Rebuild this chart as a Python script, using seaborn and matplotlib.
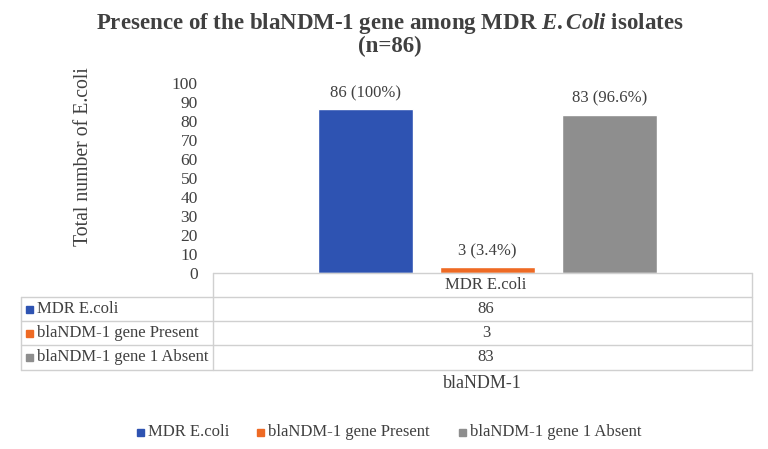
import matplotlib
matplotlib.use("Agg")
import matplotlib.pyplot as plt
import seaborn as sns
import pandas as pd
from matplotlib.lines import Line2D
from matplotlib.patches import Rectangle

categories = ["MDR E.coli"]
series = ["MDR E.coli", "blaNDM-1 gene Present", "blaNDM-1 gene 1 Absent"]
values = [86, 3, 83]
bar_labels = ["86 (100%)", "3 (3.4%)", "83 (96.6%)"]
yticks = [0, 10, 20, 30, 40, 50, 60, 70, 80, 90, 100]
colors = ["#2E53B2", "#EE6A24", "#8E8E8E"]

sns.set_theme(style="white")
plt.rcParams["font.family"] = ["Liberation Serif", "DejaVu Serif"]
plt.rcParams["mathtext.fontset"] = "custom"
plt.rcParams["mathtext.it"] = "Liberation Serif:italic:bold"
plt.rcParams["mathtext.rm"] = "Liberation Serif:bold"
plt.rcParams["mathtext.bf"] = "Liberation Serif:bold"

W, H = 768, 449
fig = plt.figure(figsize=(W / 100, H / 100), dpi=100)

def fx(px):
    return px / W

def fy(py):
    return 1 - py / H

TXT = "#404040"
ax_l, ax_r, ax_b, ax_t = 213, 752, 273, 82.6
ax = fig.add_axes([fx(ax_l), fy(ax_b), fx(ax_r - ax_l), (ax_b - ax_t) / H])

df = pd.DataFrame({"cat": categories * len(series), "series": series, "value": values})
sns.barplot(data=df, x="cat", y="value", hue="series", palette=colors,
            width=0.679, gap=0.221, ax=ax, legend=False, saturation=1)

ax.set_ylim(0, 100)
d = 0.0093
ax.set_xlim(-0.5 - d, 0.5 - d)
ax.set_yticks(yticks)
ax.set_yticklabels([str(t) for t in yticks], fontsize=12.5, color=TXT)
ax.tick_params(axis="y", length=0, pad=11)
ax.set_xticks([])
ax.set_xlabel("")
ax.set_ylabel("")
for s in ax.spines.values():
    s.set_visible(False)

for cont, lab in zip(ax.containers, bar_labels):
    ax.bar_label(cont, labels=[lab], padding=6, fontsize=12, color=TXT)

# title
fig.text(fx(390), fy(23), "Presence of the blaNDM-1 gene among MDR $\\mathit{E.Coli}$ isolates",
         ha="center", va="center", fontsize=16.5, fontweight="bold", color=TXT)
fig.text(fx(390), fy(46), "(n=86)", ha="center", va="center", fontsize=16.5,
         fontweight="bold", color=TXT)

# y label
fig.text(fx(84), fy(157), "Total number of E.coli", rotation=90, ha="center", va="center",
         fontsize=14.2, color=TXT)

# data table
lc = "#D0D0D0"
rows_y = [273, 297, 321, 345, 369.5]
left_x, mid_x, right_x = 20.5, 213, 752
def hline(y, x0, x1):
    fig.add_artist(Line2D([fx(x0), fx(x1)], [fy(y), fy(y)], color=lc, lw=1))
def vline(x, y0, y1):
    fig.add_artist(Line2D([fx(x), fx(x)], [fy(y0), fy(y1)], color=lc, lw=1))

hline(rows_y[0], mid_x, right_x)
for y in rows_y[1:]:
    hline(y, left_x, right_x)
vline(left_x, rows_y[1], rows_y[-1])
vline(mid_x, rows_y[0], rows_y[-1])
vline(right_x, rows_y[0], rows_y[-1])

fig.text(fx(486), fy((rows_y[0] + rows_y[1]) / 2), categories[0], ha="center", va="center",
         fontsize=12, color=TXT)
for i, (name, val, col) in enumerate(zip(series, values, colors)):
    yc = (rows_y[i + 1] + rows_y[i + 2]) / 2
    fig.add_artist(Rectangle((fx(26), fy(yc + 3.5)), fx(7), 7 / H, color=col))
    fig.text(fx(37), fy(yc), name, ha="left", va="center", fontsize=12, color=TXT)
    fig.text(fx(486), fy(yc), str(val), ha="center", va="center", fontsize=12, color=TXT)

# x label
fig.text(fx(482), fy(384), "blaNDM-1", ha="center", va="center", fontsize=13, color=TXT)

# legend
leg_items = [(137, 148), (257, 268), (459, 470)]
for (sx, tx), name, col in zip(leg_items, series, colors):
    fig.add_artist(Rectangle((fx(sx), fy(436)), fx(7), 7 / H, color=col))
    fig.text(fx(tx), fy(432.5), name, ha="left", va="center", fontsize=12, color=TXT)

fig.savefig("out.png", dpi=100)
